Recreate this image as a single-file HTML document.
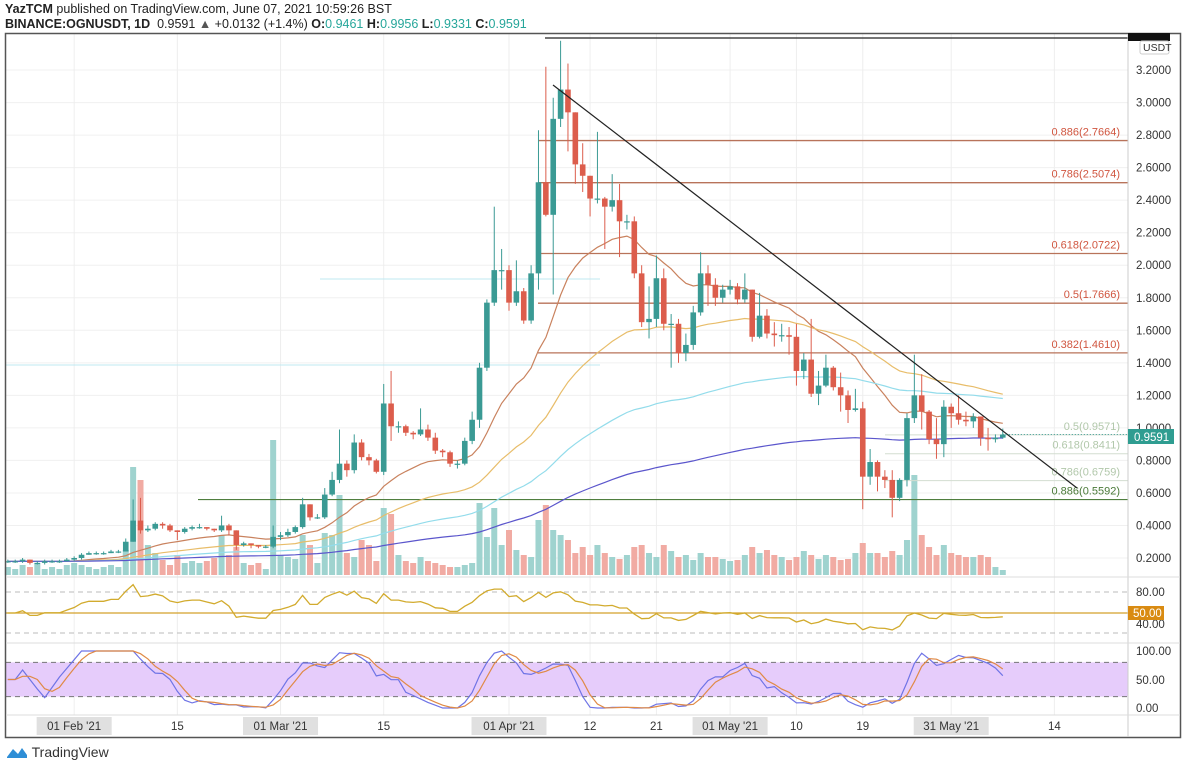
<!DOCTYPE html>
<html><head><meta charset="utf-8"><style>
html,body{margin:0;padding:0;background:#fff;width:1186px;height:768px;overflow:hidden;font-family:"Liberation Sans",sans-serif}
.hdr{position:absolute;left:5px;font-size:12.5px;color:#222;white-space:nowrap}
svg text{font-family:"Liberation Sans",sans-serif}
</style></head><body>
<div class="hdr" style="top:2px"><b>YazTCM</b> published on TradingView.com, June 07, 2021 10:59:26 BST</div>
<div class="hdr" style="top:17px"><b>BINANCE:OGNUSDT, 1D</b>&nbsp; 0.9591 <span style="color:#555">▲</span> +0.0132 (+1.4%) <b>O:</b><span style="color:#26a69a">0.9461</span> <b>H:</b><span style="color:#26a69a">0.9956</span> <b>L:</b><span style="color:#26a69a">0.9331</span> <b>C:</b><span style="color:#26a69a">0.9591</span></div>
<svg id="chart" width="1186" height="768" style="position:absolute;left:0;top:0">
<g id="grid"></g><g id="vol"></g><g id="fib"></g><g id="ma"></g><g id="candles"></g><g id="over"></g><g id="axes"></g>
</svg>
<div style="position:absolute;left:6px;top:744px;font-size:14px;color:#333"><svg width="22" height="14" style="vertical-align:-2px"><path d="M1 12 L7 4 L12 9 L16 3 L21 10 L21 13 L1 13Z" fill="#2e8ed6"/></svg> TradingView</div>
<script>
const closes=[0.18,0.18,0.19,0.17,0.17,0.18,0.18,0.18,0.19,0.20,0.22,0.23,0.23,0.23,0.24,0.24,0.30,0.43,0.37,0.38,0.41,0.40,0.37,0.36,0.38,0.39,0.39,0.38,0.37,0.40,0.37,0.28,0.29,0.28,0.27,0.27,0.33,0.34,0.36,0.39,0.53,0.45,0.45,0.59,0.68,0.78,0.74,0.91,0.82,0.80,0.73,1.15,1.01,1.01,0.97,0.96,0.99,0.94,0.86,0.85,0.78,0.78,0.92,1.05,1.37,1.77,1.97,1.97,1.77,1.84,1.66,1.95,2.51,2.31,2.90,3.08,2.94,2.62,2.55,2.41,2.41,2.36,2.40,2.27,2.27,1.95,1.65,1.67,1.92,1.64,1.64,1.46,1.51,1.71,1.95,1.88,1.80,1.85,1.87,1.79,1.85,1.56,1.69,1.58,1.57,1.57,1.56,1.35,1.42,1.21,1.26,1.37,1.25,1.20,1.11,1.12,0.70,0.79,0.70,0.68,0.57,0.68,1.06,1.20,1.10,0.93,0.90,1.13,1.09,1.05,1.04,1.07,0.94,0.93,0.94,0.9591];
const highs=[.19,.19,.20,.19,.18,.19,.19,.19,.20,.21,.23,.24,.24,.24,.25,.25,.32,.56,.57,.40,.42,.42,.41,.37,.39,.40,.41,.39,.38,.46,.41,.37,.30,.29,.28,.28,.40,.36,.38,.40,.57,.53,.47,.63,.73,.99,.80,.96,.93,.84,.81,1.27,1.35,1.04,1.02,.98,1.12,1.02,.97,.87,.86,.80,.94,1.10,1.40,1.79,2.36,2.10,2.00,2.03,1.86,2.00,2.83,3.22,3.03,3.38,3.24,2.94,2.75,2.55,2.82,2.42,2.56,2.50,2.31,2.30,2.00,1.87,2.06,1.98,1.70,1.67,1.58,1.75,2.08,2.00,1.92,1.88,1.91,1.89,1.95,1.85,1.83,1.73,1.65,1.64,1.62,1.64,1.46,1.67,1.35,1.45,1.38,1.34,1.23,1.24,1.16,.87,.80,.74,.74,.69,1.09,1.45,1.33,1.11,1.06,1.17,1.15,1.20,1.10,1.09,1.07,1.00,.96,.9956];
const lows=[.17,.17,.17,.16,.16,.16,.17,.17,.18,.18,.19,.22,.22,.22,.23,.23,.24,.30,.35,.36,.37,.38,.36,.31,.35,.37,.38,.37,.36,.36,.34,.25,.27,.26,.26,.26,.26,.31,.33,.35,.38,.43,.44,.44,.58,.66,.70,.72,.80,.77,.72,.71,.92,.97,.95,.93,.95,.92,.84,.82,.76,.75,.77,.90,1.00,1.35,1.75,1.85,1.72,1.75,1.64,1.64,1.85,2.30,1.82,2.85,2.70,2.50,2.45,2.30,2.38,2.10,2.33,2.05,2.22,1.92,1.62,1.55,1.62,1.60,1.37,1.40,1.41,1.48,1.69,1.75,1.75,1.77,1.82,1.76,1.77,1.53,1.55,1.55,1.50,1.53,1.45,1.26,1.30,1.19,1.14,1.25,1.23,1.10,1.03,1.10,.50,.65,.61,.63,.45,.55,.64,1.03,.99,.90,.81,.82,1.00,1.02,1.01,1.00,.89,.86,.91,.9331];
const volumes=[8,6,10,8,12,6,8,6,10,12,10,8,6,8,10,8,25,108,95,30,22,15,10,20,12,14,12,14,17,40,20,28,12,10,12,6,135,20,18,16,40,30,12,42,40,80,22,18,35,30,14,67,61,20,14,12,18,14,12,10,8,8,10,12,72,38,67,30,45,25,20,18,55,70,45,40,35,22,28,20,30,22,18,16,20,28,30,22,18,30,24,18,20,15,22,18,18,16,14,15,20,28,22,25,20,18,15,18,24,20,16,20,18,15,16,22,32,22,22,18,24,20,35,100,40,28,20,30,22,20,18,18,20,18,8,5];
const priceTicks=[3.2,3.0,2.8,2.6,2.4,2.2,2.0,1.8,1.6,1.4,1.2,1.0,0.8,0.6,0.4,0.2];
const fibUpper=[[0.886,2.7664],[0.786,2.5074],[0.618,2.0722],[0.5,1.7666],[0.382,1.4610]];
const fibLower=[[0.5,0.9571],[0.618,0.8411],[0.786,0.6759]];
const fibBase=[0.886,0.5592];
const dateLabels=[[9,"01 Feb '21",1],[23,"15",0],[37,"01 Mar '21",1],[51,"15",0],[68,"01 Apr '21",1],[79,"12",0],[88,"21",0],[98,"01 May '21",1],[107,"10",0],[116,"19",0],[128,"31 May '21",1],[142,"14",0]];

const NS="http://www.w3.org/2000/svg";
function mk(tag,attrs,parent,txt){const e=document.createElementNS(NS,tag);for(const k in attrs)e.setAttribute(k,attrs[k]);if(txt!==undefined)e.textContent=txt;document.getElementById(parent).appendChild(e);return e;}
const X=i=>509+(i-68)*7.37;
const Y=p=>558-(p-0.2)/0.2*32.53;
const YR=v=>613-(v-50)*0.725;
const YS=v=>708-v*0.57;
const R=1128;
const UP="#3a9a94",DN="#dc5d4c";

priceTicks.forEach(p=>{const l=mk('line',{x1:6,x2:R,y1:Y(p),y2:Y(p),stroke:'#f0f0f0'},'grid');

});
dateLabels.forEach(d=>{const l=mk('line',{x1:X(d[0]),x2:X(d[0]),y1:34,y2:715,stroke:'#eeeeee'},'grid');

});
mk('line',{x1:6,x2:600,y1:365,y2:365,stroke:'#bfe9f2'},'grid');
mk('line',{x1:320,x2:600,y1:279,y2:279,stroke:'#bfe9f2'},'grid');

volumes.forEach((v,i)=>{const up=i==0||closes[i]>=closes[i-1];
const b=mk('rect',{x:X(i)-3,y:575-v,width:6,height:v,fill:up?'#9fd3cf':'#f1aba3'},'vol');

});

fibUpper.forEach(f=>{const y=Y(f[1]);const l=mk('line',{x1:538,x2:R,y1:y,y2:y,stroke:'#b8735a','stroke-width':1.3},'fib');


const t=mk('text',{x:1120,y:y-5,'text-anchor':'end','font-size':11,fill:'#d0553f'},'fib',f[0]+'('+f[1].toFixed(4)+')');

});
fibLower.forEach(f=>{const y=Y(f[1]);const l=mk('line',{x1:885,x2:R,y1:y,y2:y,stroke:'#d3ddd0','stroke-width':1},'fib');


const t=mk('text',{x:1120,y:y-5,'text-anchor':'end','font-size':11,fill:'#b2c8ab'},'fib',f[0]+'('+f[1].toFixed(4)+')');

});
{const y=Y(fibBase[1]);const l=mk('line',{x1:198,x2:R,y1:y,y2:y,stroke:'#4f7e3e','stroke-width':1.2},'fib');


const t=mk('text',{x:1120,y:y-5,'text-anchor':'end','font-size':11,fill:'#4a7a38'},'fib',fibBase[0]+'('+fibBase[1].toFixed(4)+')');

}

function ema(arr,n){const k=2/(n+1);let e=arr[0];return arr.map(v=>e=v*k+e*(1-k));}
[[20,'#c9825e'],[50,'#e8bd6a'],[100,'#93dceb'],[200,'#5b56cc']].forEach(m=>{const e=ema(closes,m[0]);
const p=mk('path',{d:e.map((v,i)=>(i?'L':'M')+X(i).toFixed(1)+' '+Y(v).toFixed(1)).join(''),fill:'none',stroke:m[1],'stroke-width':1.2},'ma');

});

closes.forEach((c,i)=>{const o=i?closes[i-1]:c;const up=c>=o;const col=up?UP:DN;
const w=mk('line',{x1:X(i),x2:X(i),y1:Y(highs[i]),y2:Y(lows[i]),stroke:col,'stroke-width':1},'candles');


const top=Y(Math.max(o,c)),h=Math.max(1.2,Math.abs(Y(o)-Y(c)));
const b=mk('rect',{x:X(i)-2.8,y:top,width:5.6,height:h,fill:col},'candles');

});

{const t=mk('line',{x1:553,y1:85,x2:1077,y2:488,stroke:'#222','stroke-width':1.2},'over');


const h=mk('line',{x1:545,x2:R,y1:38,y2:38,stroke:'#222','stroke-width':1.3},'over');

}
mk('line',{x1:X(135),x2:R,y1:Y(0.9591),y2:Y(0.9591),stroke:UP,'stroke-dasharray':'1 2'},'over');

function rsi(arr,n){const out=[50];let ag=0.006,al=0.006;for(let i=1;i<arr.length;i++){const d=arr[i]-arr[i-1];const g=Math.max(d,0),l=Math.max(-d,0);
ag=(ag*(n-1)+g)/n;al=(al*(n-1)+l)/n;out.push(al==0?100:100-100/(1+ag/al));}return out;}
const rs=rsi(closes,14);
mk('line',{x1:6,x2:R,y1:592,y2:592,stroke:'#bbb','stroke-dasharray':'5 4'},'over');
mk('line',{x1:6,x2:R,y1:633,y2:633,stroke:'#bbb','stroke-dasharray':'5 4'},'over');
mk('line',{x1:6,x2:R,y1:613,y2:613,stroke:'#d4a12a','stroke-width':1.2},'over');
{const p=mk('path',{d:rs.map((v,i)=>(i?'L':'M')+X(i).toFixed(1)+' '+YR(v).toFixed(1)).join(''),fill:'none',stroke:'#d2ab2e','stroke-width':1.3},'over');

}

mk('rect',{x:6,y:YS(80),width:R-6,height:YS(20)-YS(80),fill:'#e6ccfb'},'over');
mk('line',{x1:6,x2:R,y1:YS(80),y2:YS(80),stroke:'#777','stroke-dasharray':'5 4'},'over');
mk('line',{x1:6,x2:R,y1:YS(20),y2:YS(20),stroke:'#777','stroke-dasharray':'5 4'},'over');
const st=rs.map((v,i)=>{const w=rs.slice(Math.max(0,i-13),i+1);const mn=Math.min(...w),mx=Math.max(...w);return mx>mn?(v-mn)/(mx-mn)*100:50;});
const sma=(a,n)=>a.map((v,i)=>{const w=a.slice(Math.max(0,i-n+1),i+1);return w.reduce((s,x)=>s+x,0)/w.length;});
const K=sma(st,3),D=sma(K,3);
[[K,'#6f74e6','stoch-k-line'],[D,'#e08a46','stoch-d-line']].forEach(s=>{const p=mk('path',{d:s[0].map((v,i)=>(i?'L':'M')+X(i).toFixed(1)+' '+YS(v).toFixed(1)).join(''),fill:'none',stroke:s[1],'stroke-width':1.2},'over');

});

mk('rect',{x:5.5,y:33.5,width:1175,height:704,fill:'none',stroke:'#555','stroke-width':1.5},'axes');
mk('line',{x1:R,x2:R,y1:34,y2:737,stroke:'#ccc'},'axes');
mk('line',{x1:6,x2:1180,y1:577,y2:577,stroke:'#ddd'},'axes');
mk('line',{x1:6,x2:1180,y1:643,y2:643,stroke:'#ddd'},'axes');
mk('line',{x1:6,x2:1180,y1:715,y2:715,stroke:'#ddd'},'axes');
priceTicks.forEach(p=>{const t=mk('text',{x:1136,y:Y(p)+4,'font-size':11.5,fill:'#333'},'axes',p.toFixed(4));

});
[[80,592],[40,624],[100,651],[50,680],[0,708]].forEach(a=>{const t=mk('text',{x:1136,y:a[1]+4,'font-size':11.5,fill:'#333'},'axes',a[0].toFixed(2));

});
mk('rect',{x:1128,y:606,width:36,height:14,fill:'#d98b12'},'axes');
mk('text',{x:1133,y:617,'font-size':11.5,fill:'#fff'},'axes','50.00');
mk('rect',{x:1128,y:429,width:46,height:15,fill:'#2f9d91'},'axes');
{const t=mk('text',{x:1134,y:441,'font-size':11.5,fill:'#fff'},'axes','0.9591');

}
mk('rect',{x:1128,y:33,width:42,height:8,fill:'#111'},'axes');
mk('rect',{x:1140,y:41,width:29,height:13,fill:'#fff',stroke:'#ccc',rx:2},'axes');
mk('text',{x:1143,y:51,'font-size':10.5,fill:'#333'},'axes','USDT');
dateLabels.forEach(d=>{const x=X(d[0]);if(d[2]){const w=d[1].length*6.3+12;mk('rect',{x:x-w/2,y:717,width:w,height:18,fill:'#e0e0e0'},'axes');}
const t=mk('text',{x:x,y:730,'text-anchor':'middle','font-size':11.5,fill:'#333'},'axes',d[1]);

});
</script>
</body></html>
